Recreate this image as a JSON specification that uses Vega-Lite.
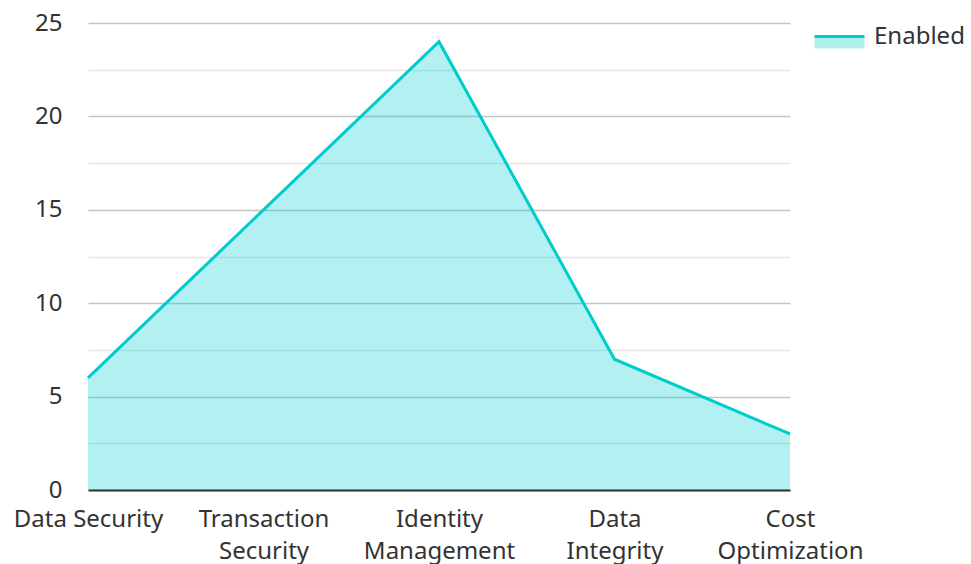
{
  "$schema": "https://vega.github.io/schema/vega-lite/v6.json",
  "autosize": "none",
  "width": 702,
  "height": 467,
  "padding": {"left": 88, "top": 23, "right": 181, "bottom": 74},
  "background": "white",
  "config": {
    "font": "Noto Sans",
    "view": {"stroke": null},
    "axis": {"labelFont": "Noto Sans", "labelColor": "#333333", "labelFontSize": 24}
  },
  "data": {
    "values": [
      {"category": "Data Security", "value": 6, "series": "Enabled"},
      {"category": "Transaction Security", "value": 15, "series": "Enabled"},
      {"category": "Identity Management", "value": 24, "series": "Enabled"},
      {"category": "Data Integrity", "value": 7, "series": "Enabled"},
      {"category": "Cost Optimization", "value": 3, "series": "Enabled"}
    ]
  },
  "encoding": {
    "x": {
      "field": "category",
      "type": "nominal",
      "sort": null,
      "scale": {"type": "point", "padding": 0},
      "axis": {
        "title": null,
        "labelAngle": 0,
        "ticks": false,
        "grid": false,
        "domainColor": "#333333",
        "domainWidth": 2,
        "labelPadding": 17,
        "labelOverlap": false,
        "labelBound": false,
        "labelFlush": false,
        "labelLineHeight": 32,
        "labelExpr": "datum.value == 'Data Security' ? datum.value : split(datum.value, ' ')",
        "zindex": 2
      }
    },
    "y": {
      "field": "value",
      "type": "quantitative",
      "scale": {"domain": [0, 25], "nice": false},
      "axis": {
        "title": null,
        "values": [0, 2.5, 5, 7.5, 10, 12.5, 15, 17.5, 20, 22.5, 25],
        "labelExpr": "datum.value % 5 === 0 ? datum.label : ''",
        "ticks": false,
        "domain": false,
        "labelPadding": 26,
        "gridWidth": 1.5,
        "gridColor": {"condition": {"test": "datum.value % 5 === 0", "value": "#c4c4c4"}, "value": "#e6e6e6"},
        "zindex": 0
      }
    }
  },
  "layer": [
    {
      "mark": {"type": "area", "color": "#00CED1", "opacity": 0.3}
    },
    {
      "mark": {"type": "line", "strokeWidth": 3},
      "encoding": {
        "stroke": {
          "field": "series",
          "type": "nominal",
          "scale": {"range": ["#00CCCC"]},
          "legend": {
            "title": null,
            "orient": "none",
            "legendX": 725,
            "legendY": -13,
            "labelFontSize": 24,
            "labelColor": "#333333",
            "labelFont": "Noto Sans",
            "symbolType": "M-1,0H1V0.48H-1Z",
            "symbolSize": 2500,
            "symbolStrokeWidth": 3,
            "labelOffset": 8,
            "encode": {
              "symbols": {
                "update": {
                  "fill": {"value": "#b2efef"},
                  "fillOpacity": {"value": 1},
                  "strokeDash": {"value": [50, 300]}
                }
              }
            }
          }
        }
      }
    }
  ]
}
